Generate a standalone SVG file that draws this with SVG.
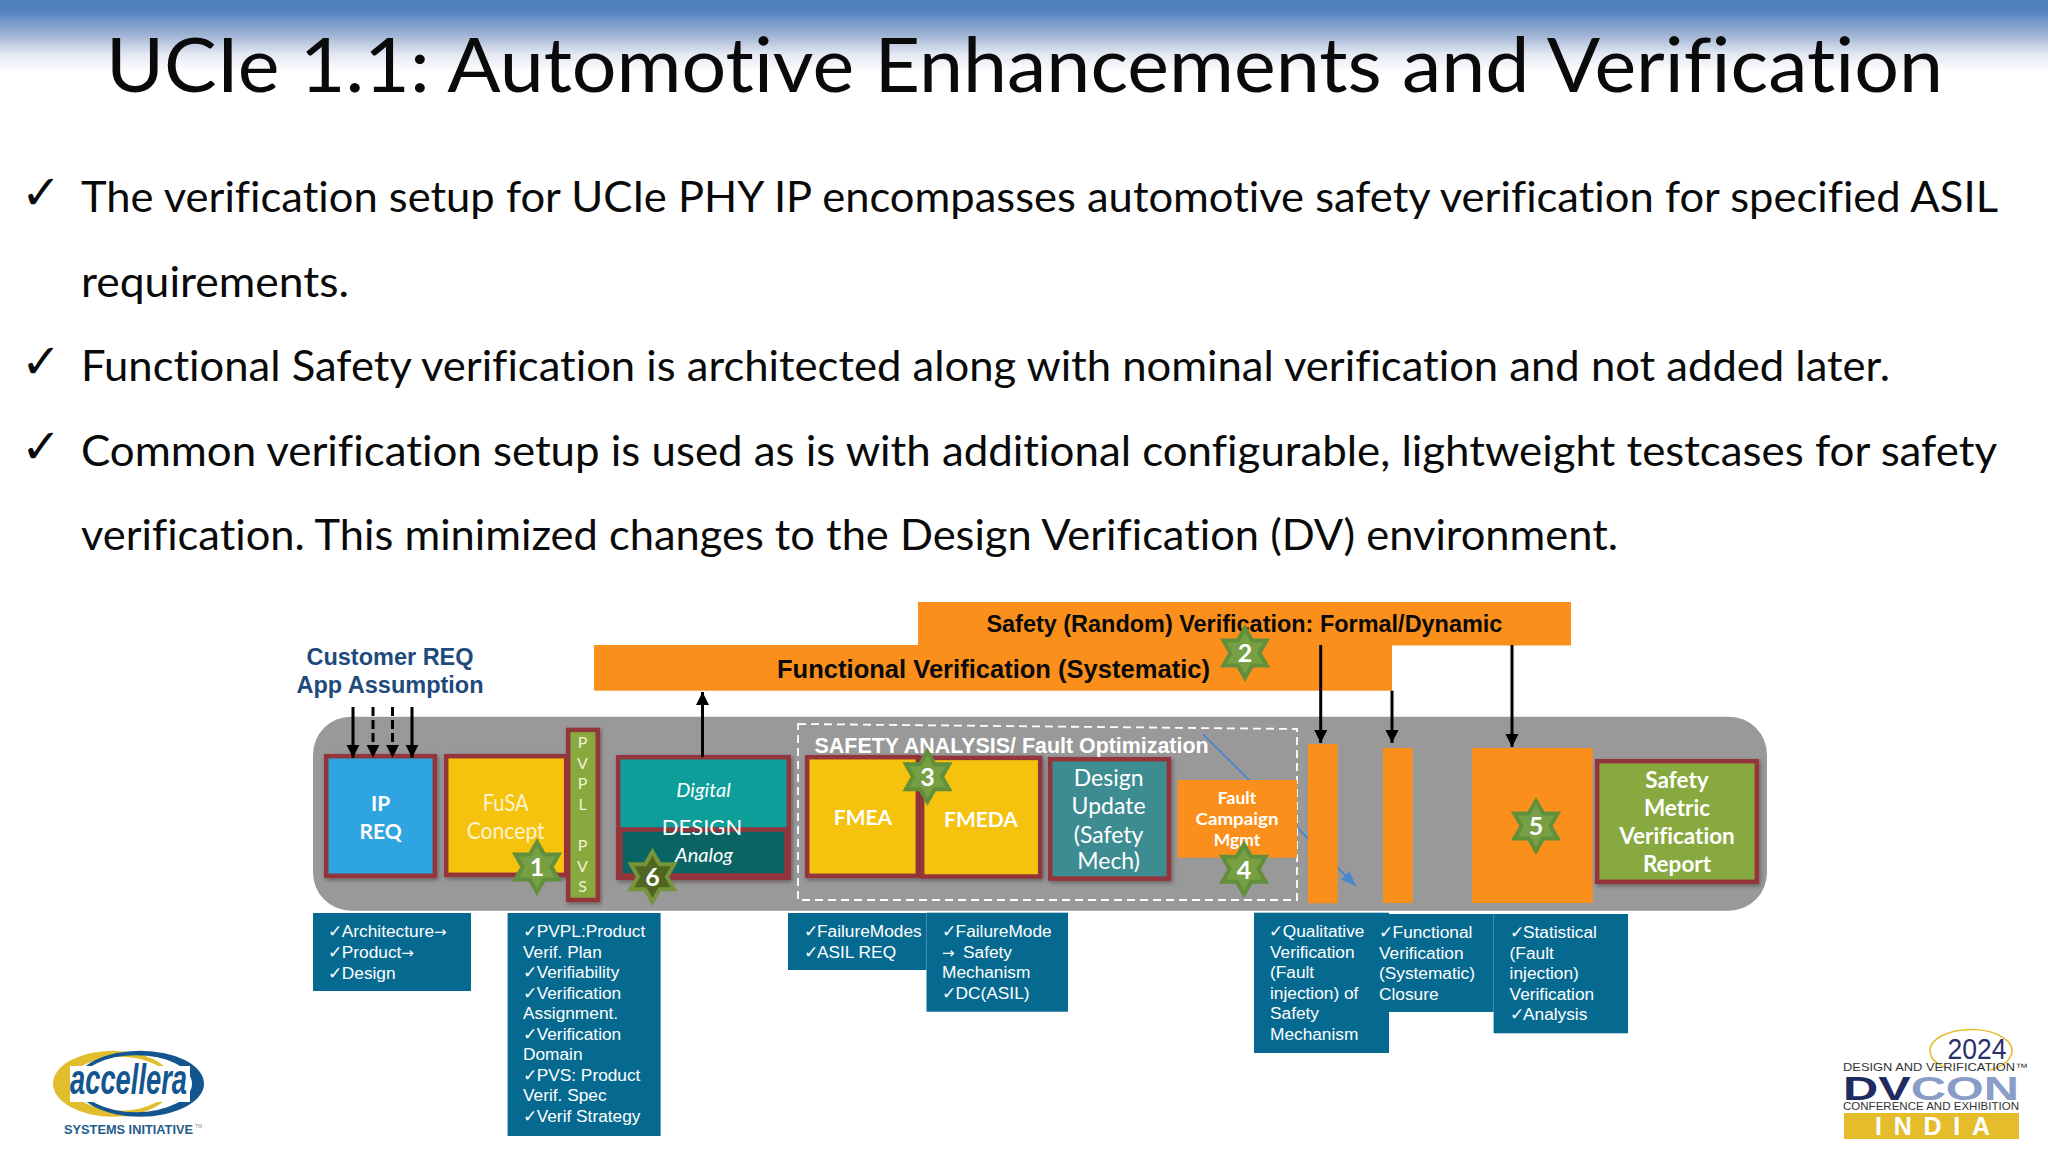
<svg xmlns="http://www.w3.org/2000/svg" width="2048" height="1152" viewBox="0 0 2048 1152">
<style>
text{font-family:"Liberation Sans",Arial,sans-serif}
.cal{font-family:Lato,"Open Sans",sans-serif;font-variant-ligatures:none}
.title{font-size:76px;fill:#0a0a0a}
.body{font-size:42px;fill:#0a0a0a}
.bigck{font-family:"DejaVu Sans",sans-serif;font-size:48px;fill:#0a0a0a}
.box{stroke:#93353A;stroke-width:4.5}
.w{fill:#fff;text-anchor:middle}
.c{fill:#FDF3D0;text-anchor:middle}
.pv{fill:#EEF3D5;text-anchor:middle;font-size:16px}
.bar{fill:#FA8F1C}
.note{fill:#066A90}
.nt{font-size:17.3px;fill:#fff}
.ck{font-family:"DejaVu Sans",sans-serif;font-size:17px}
.ar{font-family:"DejaVu Sans",sans-serif;font-size:15px}
.starnum{font-family:Lato,"Open Sans",sans-serif;font-weight:700;font-size:25px;fill:#fff;text-anchor:middle}
.st{fill:#76A043;stroke:#628F3A;stroke-width:4}
.conn{stroke:#000;stroke-width:3;fill:none}
</style>
<defs>
<linearGradient id="hdr" x1="0" y1="0" x2="0" y2="1">
<stop offset="0" stop-color="#4F81BD"/><stop offset=".14" stop-color="#4F81BD"/><stop offset=".5" stop-color="#A3B6D7"/><stop offset=".75" stop-color="#E3E8F2"/><stop offset="1" stop-color="#fff"/>
</linearGradient>
<filter id="sh" x="-10%" y="-10%" width="125%" height="125%"><feDropShadow dx="1.5" dy="2" stdDeviation="2" flood-color="#000" flood-opacity=".35"/></filter>
<marker id="ah" markerUnits="userSpaceOnUse" markerWidth="14" markerHeight="15" refX="13" refY="6.5" orient="auto"><path d="M0 0L13 6.5L0 13Z" fill="#000"/></marker>
<marker id="bh" markerUnits="userSpaceOnUse" markerWidth="16" markerHeight="14" refX="15" refY="6" orient="auto"><path d="M0 0L15 6L0 12Z" fill="#4A86CF"/></marker>
<path id="star" d="M0-25L7.2-12.5L21.65-12.5L14.4 0L21.65 12.5L7.2 12.5L0 25L-7.2 12.5L-21.65 12.5L-14.4 0L-21.65-12.5L-7.2-12.5Z"/>
</defs>
<rect width="2048" height="1152" fill="#fff"/>
<rect id="header-band" width="2048" height="72" fill="url(#hdr)"/>
<text class="cal title" x="106" y="92" textLength="1837" lengthAdjust="spacingAndGlyphs">UCIe 1.1: Automotive Enhancements and Verification</text>
<g id="bullets">
<text class="bigck" x="21" y="209">✓</text>
<text class="cal body" x="81" y="212" textLength="1917" lengthAdjust="spacingAndGlyphs">The verification setup for UCIe PHY IP encompasses automotive safety verification for specified ASIL</text>
<text class="cal body" x="81" y="296.6" textLength="268" lengthAdjust="spacingAndGlyphs">requirements.</text>
<text class="bigck" x="21" y="378">✓</text>
<text class="cal body" x="81" y="381.2" textLength="1809" lengthAdjust="spacingAndGlyphs">Functional Safety verification is architected along with nominal verification and not added later.</text>
<text class="bigck" x="21" y="463">✓</text>
<text class="cal body" x="81" y="465.8" textLength="1916" lengthAdjust="spacingAndGlyphs">Common verification setup is used as is with additional configurable, lightweight testcases for safety</text>
<text class="cal body" x="81" y="550.4" textLength="1537" lengthAdjust="spacingAndGlyphs">verification. This minimized changes to the Design Verification (DV) environment.</text>
</g>
<g id="customer-req"><text x="390" y="665" text-anchor="middle" font-size="23.5" font-weight="700" fill="#1F4A7C">Customer REQ</text><text x="390" y="693" text-anchor="middle" font-size="23.5" font-weight="700" fill="#1F4A7C">App Assumption</text></g>
<g id="safety-bar"><path class="bar" d="M918 602H1571V645.5H1392V648H918Z"/><text x="986.4" y="632" font-size="23.5" font-weight="700" fill="#0a0a0a" textLength="516" lengthAdjust="spacingAndGlyphs">Safety (Random) Verification: Formal/Dynamic</text></g>
<g id="functional-bar"><rect class="bar" x="594" y="645" width="798" height="45.7"/><text x="777" y="677.5" font-size="26" font-weight="700" fill="#0a0a0a" textLength="433" lengthAdjust="spacingAndGlyphs">Functional Verification (Systematic)</text></g>
<rect id="lifecycle-band" x="313" y="716.7" width="1454" height="194" rx="38" fill="#999"/>
<g id="connectors-under"><path d="M1203 734.3L1356 886" stroke="#4A86CF" stroke-width="1.8" fill="none" marker-end="url(#bh)"/></g>
<g id="safety-analysis"><path d="M798 724L1297 729V900H798Z" fill="none" stroke="#fff" stroke-width="1.8" stroke-dasharray="8 5"/><text x="814.6" y="752.5" font-size="22" font-weight="700" fill="#fff" textLength="394" lengthAdjust="spacingAndGlyphs">SAFETY ANALYSIS/ Fault Optimization</text></g>
<g id="ip-req"><rect class="box" filter="url(#sh)" x="326.2" y="756.2" width="108.6" height="119.6" fill="#2FA4E0"/><text class="cal w" x="380.7" y="811" font-size="21" font-weight="700">IP</text><text class="cal w" x="380.7" y="839" font-size="21" font-weight="700">REQ</text></g>
<g id="fusa"><rect class="box" filter="url(#sh)" x="446.2" y="756.2" width="120" height="118.6" fill="#F5C20B"/><text class="cal c" x="505.7" y="811" font-size="23" textLength="46" lengthAdjust="spacingAndGlyphs">FuSA</text><text class="cal c" x="505.7" y="838.5" font-size="23" textLength="78" lengthAdjust="spacingAndGlyphs">Concept</text></g>
<g id="pvpl-pvs"><rect class="box" filter="url(#sh)" x="568.2" y="729.9" width="29.6" height="170" fill="#88A93E"/>
<text class="cal pv" x="582.5" y="748">P</text><text class="cal pv" x="582.5" y="769">V</text><text class="cal pv" x="582.5" y="789">P</text><text class="cal pv" x="582.5" y="810">L</text><text class="cal pv" x="582.5" y="851">P</text><text class="cal pv" x="582.5" y="872">V</text><text class="cal pv" x="582.5" y="892">S</text></g>
<g id="design"><rect class="box" filter="url(#sh)" x="618.2" y="757.2" width="170.6" height="120.6" fill="#0B9E9A"/><rect x="620.5" y="829.5" width="166" height="46" fill="#0B6464" stroke="#93353A" stroke-width="4.5"/><text class="cal w" x="703.6" y="796.7" font-size="20" font-style="italic">Digital</text><text class="cal w" x="702" y="835" font-size="22">DESIGN</text><text class="cal w" x="704" y="861.7" font-size="20" font-style="italic">Analog</text></g>
<g id="fmea"><rect class="box" filter="url(#sh)" x="807.2" y="757.2" width="110.6" height="118.6" fill="#F5C20B"/><text class="cal w" x="863" y="825" font-size="21" font-weight="700">FMEA</text></g>
<g id="fmeda"><rect class="box" filter="url(#sh)" x="922.2" y="757.9" width="118" height="118.6" fill="#F5C20B"/><text class="cal w" x="981" y="827" font-size="21" font-weight="700">FMEDA</text></g>
<g id="design-update"><rect class="box" filter="url(#sh)" x="1050.2" y="759.2" width="118.6" height="119.4" fill="#3E8C92"/><text class="cal w" font-size="23" x="1108.6" y="785.5">Design</text><text class="cal w" font-size="23" x="1108.6" y="813.5">Update</text><text class="cal w" font-size="23" x="1108.6" y="842.5">(Safety</text><text class="cal w" font-size="23" x="1108.6" y="869">Mech)</text></g>
<g id="fault-campaign"><rect class="bar" x="1177.5" y="780" width="119.5" height="77.7"/><text class="cal w" x="1237" y="804" font-size="17.5" font-weight="700">Fault</text><text class="cal w" x="1237" y="825" font-size="17.5" font-weight="700" textLength="83" lengthAdjust="spacingAndGlyphs">Campaign</text><text class="cal w" x="1237" y="846" font-size="17.5" font-weight="700">Mgmt</text></g>
<rect id="bar-qualitative" class="bar" x="1308" y="744" width="29.7" height="159.3"/>
<rect id="bar-functional" class="bar" x="1383" y="748" width="29.7" height="155"/>
<rect id="bar-statistical" class="bar" x="1472" y="748" width="120.7" height="155"/>
<g id="metric-report"><rect class="box" filter="url(#sh)" x="1597.2" y="761.2" width="159.6" height="120.6" fill="#87A93F"/><text class="cal w" x="1677" y="787.5" font-size="22.5" font-weight="700">Safety</text><text class="cal w" x="1677" y="815.5" font-size="22.5" font-weight="700">Metric</text><text class="cal w" x="1677" y="843.5" font-size="22.5" font-weight="700">Verification</text><text class="cal w" x="1677" y="872" font-size="22.5" font-weight="700">Report</text></g>
<g id="connectors">
<path class="conn" d="M353 707V757.7" marker-end="url(#ah)"/>
<path class="conn" d="M373 707V757.7" stroke-dasharray="9 4" marker-end="url(#ah)"/>
<path class="conn" d="M392.5 707V757.7" stroke-dasharray="9 4" marker-end="url(#ah)"/>
<path class="conn" d="M412 707V757.7" marker-end="url(#ah)"/>
<path class="conn" d="M702.5 757V692" marker-end="url(#ah)"/>
<path class="conn" d="M1320.7 645V743" marker-end="url(#ah)"/>
<path class="conn" d="M1392 690.7V743" marker-end="url(#ah)"/>
<path class="conn" d="M1512 645V747" marker-end="url(#ah)"/>
</g>
<g id="star-1"><use href="#star" class="st" x="537" y="867"/><text class="starnum" x="537" y="876">1</text></g>
<g id="star-2"><use href="#star" class="st" x="1245" y="653"/><text class="starnum" x="1245" y="662">2</text></g>
<g id="star-3"><use href="#star" class="st" x="927.5" y="776.7"/><text class="starnum" x="927.5" y="786">3</text></g>
<g id="star-4"><use href="#star" class="st" x="1244" y="869.3"/><text class="starnum" x="1244" y="878.5">4</text></g>
<g id="star-5"><use href="#star" class="st" x="1536" y="826"/><text class="starnum" x="1536" y="835">5</text></g>
<g id="star-6"><use href="#star" x="652.5" y="876.7" fill="#4E6620" stroke="#76953A" stroke-width="4"/><text class="starnum" x="652.5" y="886">6</text></g>
<g id="note-architecture"><rect class="note" x="313" y="913" width="158" height="78"/><text class="nt" y="937.3"><tspan class="ck" x="328">✓</tspan><tspan x="341.8">Architecture</tspan><tspan class="ar">→</tspan></text><text class="nt" y="958"><tspan class="ck" x="328">✓</tspan><tspan x="341.8">Product</tspan><tspan class="ar">→</tspan></text><text class="nt" y="978.5"><tspan class="ck" x="328">✓</tspan><tspan x="341.8">Design</tspan></text></g>
<g id="note-pvpl"><rect class="note" x="507.6" y="913" width="153" height="223"/>
<text class="nt" y="937.3"><tspan class="ck" x="523">✓</tspan><tspan x="536.7">PVPL:Product</tspan></text><text class="nt" x="523" y="957.8">Verif. Plan</text><text class="nt" y="978.3"><tspan class="ck" x="523">✓</tspan><tspan x="536.7">Verifiability</tspan></text><text class="nt" y="998.8"><tspan class="ck" x="523">✓</tspan><tspan x="536.7">Verification</tspan></text><text class="nt" x="523" y="1019.3">Assignment.</text><text class="nt" y="1039.8"><tspan class="ck" x="523">✓</tspan><tspan x="536.7">Verification</tspan></text><text class="nt" x="523" y="1060.3">Domain</text><text class="nt" y="1080.8"><tspan class="ck" x="523">✓</tspan><tspan x="536.7">PVS: Product</tspan></text><text class="nt" x="523" y="1101.3">Verif. Spec</text><text class="nt" y="1121.8"><tspan class="ck" x="523">✓</tspan><tspan x="536.7">Verif Strategy</tspan></text></g>
<g id="note-failure-modes"><rect class="note" x="788" y="913" width="138.5" height="57"/><text class="nt" y="937.3"><tspan class="ck" x="804">✓</tspan><tspan x="817">FailureModes</tspan></text><text class="nt" y="958"><tspan class="ck" x="804">✓</tspan><tspan x="817">ASIL REQ</tspan></text></g>
<g id="note-failure-mode"><rect class="note" x="926.5" y="912.7" width="141.5" height="99"/><text class="nt" y="937"><tspan class="ck" x="942">✓</tspan><tspan x="955.6">FailureMode</tspan></text><text class="nt" y="957.5"><tspan class="ar" x="942">→</tspan><tspan x="963">Safety</tspan></text><text class="nt" x="942" y="978">Mechanism</text><text class="nt" y="998.5"><tspan class="ck" x="942">✓</tspan><tspan x="955.6">DC(ASIL)</tspan></text></g>
<g id="note-qualitative"><rect class="note" x="1254" y="912.7" width="135" height="140.3"/><text class="nt" y="937.3"><tspan class="ck" x="1269">✓</tspan><tspan x="1282.8">Qualitative</tspan></text><text class="nt" x="1270" y="957.8">Verification</text><text class="nt" x="1270" y="978.3">(Fault</text><text class="nt" x="1270" y="998.8">injection) of</text><text class="nt" x="1270" y="1019.3">Safety</text><text class="nt" x="1270" y="1039.8">Mechanism</text></g>
<g id="note-functional"><rect class="note" x="1389" y="914" width="104.6" height="98"/><text class="nt" y="938"><tspan class="ck" x="1379">✓</tspan><tspan x="1392.6">Functional</tspan></text><text class="nt" x="1379" y="958.5">Verification</text><text class="nt" x="1379" y="979">(Systematic)</text><text class="nt" x="1379" y="999.5">Closure</text></g>
<g id="note-statistical"><rect class="note" x="1493.6" y="914" width="134.4" height="119.3"/><text class="nt" y="938"><tspan class="ck" x="1510">✓</tspan><tspan x="1523">Statistical</tspan></text><text class="nt" x="1509.6" y="958.5">(Fault</text><text class="nt" x="1509.6" y="979">injection)</text><text class="nt" x="1509.6" y="999.5">Verification</text><text class="nt" y="1020"><tspan class="ck" x="1510">✓</tspan><tspan x="1523">Analysis</tspan></text></g>
<g id="accellera-logo">
<path fill="#E0BE2E" fill-rule="evenodd" d="M53 1083.7a60 33 0 1 0 120 0a60 33 0 1 0-120 0ZM70 1083.7a50 27 0 1 0 100 0a50 27 0 1 0-100 0Z"/>
<path fill="#12558F" fill-rule="evenodd" d="M76 1083.7a64 33 0 1 0 128 0a64 33 0 1 0-128 0ZM80 1083.7a56 28.5 0 1 0 112 0a56 28.5 0 1 0-112 0Z"/>
<rect x="70" y="1066" width="120" height="36" fill="#fff"/>
<text x="70" y="1094" font-size="42" font-weight="700" font-style="italic" fill="#12558F" textLength="117" lengthAdjust="spacingAndGlyphs">accellera</text>
<text x="64" y="1134" font-size="12" font-weight="700" fill="#1F5C8C" textLength="129" lengthAdjust="spacingAndGlyphs">SYSTEMS INITIATIVE</text><text x="195" y="1128" font-size="5" fill="#888">TM</text>
</g>
<g id="dvcon-logo">
<path d="M1946 1068A41 21.5 0 1 1 1990 1070" fill="none" stroke="#E5BE36" stroke-width="1.5"/>
<text x="1977" y="1059" text-anchor="middle" font-size="29" fill="#2A2F6B" textLength="59" lengthAdjust="spacingAndGlyphs">2024</text>
<text x="1843" y="1071" font-size="11" fill="#333" textLength="185" lengthAdjust="spacingAndGlyphs">DESIGN AND VERIFICATION™</text>
<text x="1843" y="1100" font-size="33" font-weight="700" textLength="176" lengthAdjust="spacingAndGlyphs"><tspan fill="#1F2A60">DV</tspan><tspan fill="#8A9CC8">CON</tspan></text>
<text x="1843" y="1109.5" font-size="10.5" fill="#333" textLength="176" lengthAdjust="spacingAndGlyphs">CONFERENCE AND EXHIBITION</text>
<rect x="1844" y="1113" width="175" height="26" fill="#E5BC2B"/>
<text x="1875" y="1135" font-size="25" font-weight="700" fill="#fff" textLength="115">INDIA</text>
</g>
</svg>
